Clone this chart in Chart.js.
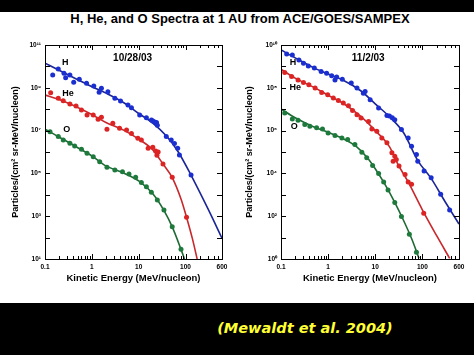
<!DOCTYPE html>
<html>
<head>
<meta charset="utf-8">
<script src="https://cdn.jsdelivr.net/npm/chart.js@4/dist/chart.umd.min.js"></script>
<style>
  html, body { margin:0; padding:0; background:#fff; }
  #wrap { position:relative; width:474px; height:355px; overflow:hidden; background:#fff; }
  #topbar { position:absolute; left:0; top:0; width:474px; height:12px; background:#000; }
  #title { position:absolute; left:0; top:11px; width:480px; text-align:center;
           font:bold 13px "Liberation Sans", Arial, sans-serif; color:#000; white-space:nowrap; }
  #footer { position:absolute; left:0; top:303px; width:474px; height:52px; background:#000; }
  #cite { position:absolute; left:0; top:320px; width:610px; text-align:center;
          font:italic bold 14.5px "DejaVu Sans", Verdana, sans-serif; color:#ffff33; white-space:nowrap; }
  canvas { position:absolute; top:0; }
</style>
</head>
<body>
<div id="wrap">
  <div id="topbar"></div>
  <div id="title">H, He, and O Spectra at 1 AU from ACE/GOES/SAMPEX</div>
  <canvas id="c1" width="237" height="300" style="left:0px"></canvas>
  <canvas id="c2" width="237" height="300" style="left:237px"></canvas>
  <div id="footer"></div>
  <div id="cite">(Mewaldt et al. 2004)</div>
</div>
<script>
// ---------- DATA (energy in MeV/nucleon, flux given as log10 of particles/(cm2 sr MeV/nucleon)) ----------
const xTickValues = [0.1, 1, 10, 100, 600];
const xTickLabels = ['0.1', '1', '10', '100', '600'];

const yTicksLeft = [1e1, 1e3, 1e5, 1e7, 1e9, 1e11];
const yTickLabelsLeft = ['10¹', '10³', '10⁵', '10⁷', '10⁹', '10¹¹'];
const yTicksRight = [1e0, 1e2, 1e4, 1e6, 1e8, 1e10];
const yTickLabelsRight = ['10⁰', '10²', '10⁴', '10⁶', '10⁸', '10¹⁰'];

// 10/28/03 event
const hPoints1028 = [[0.146,9.6],[0.192,9.88],[0.254,9.68],[0.276,9.47],[0.34,9.6],[0.41,9.26],[0.54,9.40],[0.77,9.21],[1.1,9.08],[1.43,8.79],[1.6,8.98],[2.2,8.82],[3.1,8.51],[4.1,8.38],[5.9,8.2],[7.0,8.07],[10.5,7.73],[14.6,7.6],[18.7,7.5],[20,7.45],[22,7.4],[24,7.38],[25,7.25],[38.8,6.72],[49.5,6.56],[58,6.4],[68,6.17],[74,5.86],[131,4.93]];
const hePoints1028 = [[0.132,8.77],[0.192,8.51],[0.245,8.4],[0.34,8.24],[0.46,8.15],[0.6,7.96],[0.79,7.73],[1.07,7.73],[1.36,7.53],[1.6,7.62],[2.1,7.06],[2.8,7.34],[3.9,7.11],[5.5,7.03],[7.0,6.87],[9.6,6.64],[11.4,6.56],[15.9,6.17],[20,6.22],[23,6.05],[24.5,5.85],[26,6.0],[33,5.44],[52,4.82],[105,2.95]];
const oPoints1028 = [[0.128,6.95],[0.192,6.72],[0.245,6.56],[0.34,6.41],[0.43,6.28],[0.6,6.13],[0.79,5.94],[1.07,5.78],[1.47,5.55],[2.1,5.29],[3.1,5.16],[4.5,5.08],[6.2,4.97],[8.6,4.82],[11.4,4.57],[14.6,4.38],[18.6,4.12],[25,3.76],[34.6,3.29],[52,2.51],[80,1.45]];
const hFit1028 = [[0.1,10.15],[0.2,9.82],[0.5,9.38],[1,9.05],[2,8.75],[5,8.28],[10,7.8],[20,7.35],[40,6.72],[70,6.0],[130,4.93],[300,3.35],[600,1.97]];
const heFit1028 = [[0.1,8.66],[0.2,8.45],[0.5,8.08],[1,7.75],[2,7.38],[5,7.0],[10,6.6],[20,6.1],[33,5.44],[52,4.8],[80,3.8],[105,2.95],[140,1.95],[177,1.0]];
const oFit1028 = [[0.1,7.06],[0.2,6.7],[0.5,6.2],[1,5.82],[2,5.35],[5,5.0],[10,4.65],[20,4.05],[35,3.25],[52,2.5],[80,1.45],[95,1.0]];

// 11/2/03 event
const hPoints1102 = [[0.132,9.58],[0.174,9.53],[0.24,9.30],[0.3,9.15],[0.38,9.02],[0.51,8.92],[0.71,8.76],[0.93,8.68],[1.19,8.56],[1.4,8.37],[1.52,8.5],[2.0,8.4],[3.1,8.22],[4.1,7.99],[5.6,7.75],[6.1,7.83],[7.8,7.44],[11.8,7.06],[17.7,6.7],[20,6.68],[23,6.6],[26,6.51],[36,6.05],[50,5.66],[59,5.27],[75,4.88],[80,4.57],[109,4.11],[154,3.8],[245,3.02],[380,2.29]];
const hePoints1102 = [[0.12,8.71],[0.168,8.53],[0.23,8.37],[0.3,8.25],[0.39,8.14],[0.53,7.99],[0.73,7.78],[0.98,7.67],[1.29,7.52],[1.65,7.41],[2.1,7.29],[2.7,7.16],[3.3,6.94],[4.1,6.74],[5.0,6.59],[7.2,6.43],[8.5,6.08],[10.8,5.97],[13.8,5.66],[17.7,5.43],[22.6,4.96],[24,4.57],[26,4.8],[28,4.65],[32,4.34],[43,3.95],[50,3.6],[59,3.49],[107,2.14]];
const oPoints1102 = [[0.12,6.82],[0.174,6.54],[0.23,6.48],[0.32,6.28],[0.41,6.2],[0.57,6.13],[0.76,6.08],[1.0,5.89],[1.4,5.77],[1.96,5.66],[2.6,5.58],[3.7,5.35],[5.2,4.99],[6.6,4.73],[8.8,4.37],[11.8,4.0],[15.1,3.6],[18.7,3.22],[26,2.64],[36,1.99],[53,1.16],[75,0.31]];
const hFit1102 = [[0.1,9.77],[0.2,9.4],[0.5,8.93],[1,8.64],[2,8.38],[5,7.85],[10,7.25],[20,6.65],[40,5.9],[80,4.6],[150,3.8],[300,2.7],[600,1.63]];
const heFit1102 = [[0.1,8.87],[0.2,8.45],[0.5,8.02],[1,7.65],[2,7.3],[5,6.65],[10,6.0],[20,5.25],[30,4.45],[50,3.6],[100,2.3],[200,1.1],[380,0.03]];
const oFit1102 = [[0.1,7.01],[0.2,6.6],[0.5,6.17],[1,5.92],[2,5.64],[4,5.25],[7,4.7],[10,4.22],[15,3.6],[25,2.72],[40,1.8],[60,0.92],[85,0.03]];

// in-plot labels: [text, energy, log10 flux]
const labels1028 = [['10/28/03', 7.4, 10.39], ['H', 0.27, 10.16], ['He', 0.31, 8.71], ['O', 0.29, 7.07]];
const labels1102 = [['11/2/03', 7.1, 9.40], ['H', 0.18, 9.16], ['He', 0.2, 8.0], ['O', 0.19, 6.19]];

// ---------- rendering ----------
const FONT = '"Liberation Sans", Arial, sans-serif';
const colors = {
  hPt: '#1b2fd0', hLine: '#1a2596',
  hePt: '#dc2424', heLine: '#c8282c',
  oPt: '#1e7a3c', oLine: '#1d6a34'
};
const toXY = arr => arr.map(p => ({ x: p[0], y: Math.pow(10, p[1]) }));

const boxPlugin = {
  id: 'boxTicks',
  afterDatasetsDraw(chart) {
    const { ctx, chartArea: a, scales } = chart;
    const xs = scales.x, ys = scales.y;
    ctx.save();
    ctx.strokeStyle = '#000';
    ctx.lineWidth = 1;
    ctx.strokeRect(a.left + 0.5, a.top + 0.5, a.right - a.left, a.bottom - a.top);
    ctx.beginPath();
    for (let d = 0.1; d <= 100; d *= 10) {
      for (let m = 1; m <= 9; m++) {
        const v = m * d;
        if (v > 600) break;
        const px = Math.round(xs.getPixelForValue(v)) + 0.5;
        const len = m === 1 ? 5 : 3;
        ctx.moveTo(px, a.bottom); ctx.lineTo(px, a.bottom - len);
        ctx.moveTo(px, a.top); ctx.lineTo(px, a.top + len);
      }
    }
    for (let e = Math.round(Math.log10(ys.min)); e <= Math.round(Math.log10(ys.max)); e++) {
      const py = Math.round(ys.getPixelForValue(Math.pow(10, e))) + 0.5;
      ctx.moveTo(a.left, py); ctx.lineTo(a.left + 5, py);
      ctx.moveTo(a.right, py); ctx.lineTo(a.right - 5, py);
    }
    ctx.stroke();
    ctx.restore();
  },
  afterDraw(chart) {
    const { ctx, scales } = chart;
    const labs = chart.options.plugins.boxTicks.labels;
    ctx.save();
    ctx.fillStyle = '#000';
    ctx.textAlign = 'center';
    ctx.textBaseline = 'middle';
    labs.forEach((l, i) => {
      ctx.font = 'bold ' + (i === 0 ? 10 : 9) + 'px ' + FONT;
      ctx.fillText(l[0], scales.x.getPixelForValue(l[1]), scales.y.getPixelForValue(Math.pow(10, l[2])));
    });
    ctx.restore();
  }
};

function makeChart(id, pts, fits, yMin, yMax, yTicks, yLabels, labs, yAxisWidth, yTitlePad) {
  const ds = [];
  const keys = ['h', 'he', 'o'];
  fits.forEach((f, i) => ds.push({
    type: 'line', data: toXY(f), borderColor: colors[keys[i] + 'Line'], borderWidth: 1.6,
    pointRadius: 0, fill: false, cubicInterpolationMode: 'monotone', order: 2
  }));
  pts.forEach((p, i) => ds.push({
    type: 'scatter', data: toXY(p), backgroundColor: colors[keys[i] + 'Pt'],
    borderColor: colors[keys[i] + 'Pt'], borderWidth: 0, pointRadius: 2.5, order: 1
  }));
  return new Chart(document.getElementById(id), {
    type: 'scatter',
    data: { datasets: ds },
    options: {
      responsive: false, animation: false, devicePixelRatio: 1,
      layout: { padding: { left: 0, top: 45, right: 15, bottom: 0 } },
      plugins: { legend: { display: false }, tooltip: { enabled: false }, boxTicks: { labels: labs } },
      scales: {
        x: {
          type: 'logarithmic', min: 0.1, max: 600,
          afterBuildTicks: s => { s.ticks = xTickValues.map(v => ({ value: v })); },
          afterFit: s => { s.height = 41; },
          grid: { display: false, drawTicks: false },
          border: { display: false },
          ticks: {
            autoSkip: false, maxRotation: 0, padding: 4, color: '#000',
            font: { family: FONT, weight: 'bold', size: 6.5 },
            callback: (v, i) => xTickLabels[i]
          },
          title: {
            display: true, text: 'Kinetic Energy (MeV/nucleon)', color: '#000',
            font: { family: FONT, weight: 'bold', size: 9.5 }, padding: { top: 0, bottom: 16 }
          }
        },
        y: {
          type: 'logarithmic', min: yMin, max: yMax,
          afterBuildTicks: s => { s.ticks = yTicks.map(v => ({ value: v })); },
          afterFit: s => { s.width = yAxisWidth; },
          grid: { display: false, drawTicks: false },
          border: { display: false },
          ticks: {
            autoSkip: false, padding: 4, color: '#000',
            font: { family: FONT, weight: 'bold', size: 6.5 },
            callback: (v, i) => yLabels[i]
          },
          title: {
            display: true, text: 'Particles/(cm² sr-MeV/nucleon)', color: '#000',
            font: { family: FONT, weight: 'bold', size: 9 }, padding: { top: yTitlePad, bottom: 0 }
          }
        }
      }
    },
    plugins: [boxPlugin]
  });
}

makeChart('c1', [hPoints1028, hePoints1028, oPoints1028], [hFit1028, heFit1028, oFit1028],
  1e1, 1e11, yTicksLeft, yTickLabelsLeft, labels1028, 45, 10.5);
makeChart('c2', [hPoints1102, hePoints1102, oPoints1102], [hFit1102, heFit1102, oFit1102],
  1e0, 1e10, yTicksRight, yTickLabelsRight, labels1102, 44, 7.5);
</script>
</body>
</html>
